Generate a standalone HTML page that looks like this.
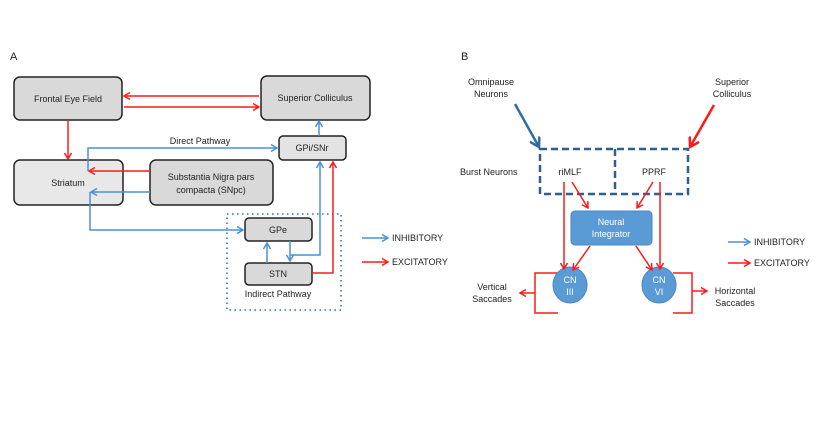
<!DOCTYPE html>
<html><head><meta charset="utf-8"><style>
html,body{margin:0;padding:0;background:#fff;}
svg{display:block;}
text{font-family:"Liberation Sans",sans-serif;font-size:9px;fill:#222;}
</style></head><body>
<svg width="822" height="421" viewBox="0 0 822 421" xmlns="http://www.w3.org/2000/svg">
<defs>
<marker id="rA" markerWidth="8" markerHeight="8" refX="7" refY="4" orient="auto" markerUnits="userSpaceOnUse"><path d="M1,0.5 L7,4 L1,7.5" fill="none" stroke="#ff1a1a" stroke-width="1.5"/></marker>
<marker id="bA" markerWidth="8" markerHeight="8" refX="7" refY="4" orient="auto" markerUnits="userSpaceOnUse"><path d="M1,0.5 L7,4 L1,7.5" fill="none" stroke="#4a90d9" stroke-width="1.5"/></marker>
<marker id="rB" markerWidth="12" markerHeight="12" refX="10" refY="6" orient="auto" markerUnits="userSpaceOnUse"><path d="M1,0.5 L10,6 L1,11.5" fill="none" stroke="#ff1a1a" stroke-width="2.5"/></marker>
<marker id="bB" markerWidth="12" markerHeight="12" refX="10" refY="6" orient="auto" markerUnits="userSpaceOnUse"><path d="M1,0.5 L10,6 L1,11.5" fill="none" stroke="#2e6da4" stroke-width="2.5"/></marker>
</defs>

<!-- Panel A -->
<text x="10" y="60" style="font-size:11px">A</text>
<g stroke="#222" stroke-width="1.5">
<rect x="14" y="77" width="108" height="43" rx="6" fill="#d9d9d9"/>
<rect x="261" y="76" width="109" height="44" rx="6" fill="#d9d9d9"/>
<rect x="279" y="136" width="67" height="24" rx="4" fill="#e3e3e3"/>
<rect x="14" y="160" width="109" height="45" rx="6" fill="#e8e8e8"/>
<rect x="150" y="160" width="123" height="45" rx="6" fill="#d9d9d9"/>
<rect x="245" y="218" width="67" height="23" rx="4" fill="#d9d9d9"/>
<rect x="245" y="263" width="67" height="22" rx="4" fill="#d9d9d9"/>
</g>
<rect x="227" y="214" width="114" height="96" fill="none" stroke="#2e6da4" stroke-width="1.5" stroke-dasharray="1.5,3.5"/>
<text x="68" y="102" text-anchor="middle">Frontal Eye Field</text>
<text x="315" y="101" text-anchor="middle">Superior Colliculus</text>
<text x="312" y="151" text-anchor="middle">GPi/SNr</text>
<text x="68" y="186" text-anchor="middle">Striatum</text>
<text x="211" y="180" text-anchor="middle">Substantia Nigra pars</text>
<text x="211" y="193" text-anchor="middle">compacta (SNpc)</text>
<text x="278" y="233" text-anchor="middle">GPe</text>
<text x="278" y="277" text-anchor="middle">STN</text>
<text x="200" y="144" text-anchor="middle">Direct Pathway</text>
<text x="278" y="297" text-anchor="middle">Indirect Pathway</text>

<g fill="none" stroke-width="1.5">
<line x1="259" y1="96" x2="124" y2="96" stroke="#ff1a1a" marker-end="url(#rA)"/>
<line x1="124" y1="107" x2="259" y2="107" stroke="#ff1a1a" marker-end="url(#rA)"/>
<line x1="68" y1="120" x2="68" y2="159" stroke="#ff1a1a" marker-end="url(#rA)"/>
<line x1="150" y1="171" x2="89" y2="171" stroke="#ff1a1a" marker-end="url(#rA)"/>
<line x1="319" y1="136" x2="319" y2="121" stroke="#4a90d9" marker-end="url(#bA)"/>
<polyline points="88,171 88,148 277,148" stroke="#4a90d9" marker-end="url(#bA)"/>
<line x1="150" y1="192" x2="91" y2="192" stroke="#4a90d9" marker-end="url(#bA)"/>
<polyline points="90,192 90,230 243,230" stroke="#4a90d9" marker-end="url(#bA)"/>
<line x1="267" y1="263" x2="267" y2="243" stroke="#4a90d9" marker-end="url(#bA)"/>
<line x1="290" y1="241" x2="290" y2="261" stroke="#4a90d9" marker-end="url(#bA)"/>
<polyline points="290,255 320,255 320,162" stroke="#4a90d9" marker-end="url(#bA)"/>
<polyline points="312,273 333,273 333,162" stroke="#ff1a1a" marker-end="url(#rA)"/>
<line x1="362" y1="238" x2="388" y2="238" stroke="#4a90d9" marker-end="url(#bA)"/>
<line x1="362" y1="262" x2="388" y2="262" stroke="#ff1a1a" marker-end="url(#rA)"/>
</g>
<text x="392" y="241">INHIBITORY</text>
<text x="392" y="265">EXCITATORY</text>

<!-- Panel B -->
<text x="461" y="60" style="font-size:11px">B</text>
<text x="491" y="85" text-anchor="middle">Omnipause</text>
<text x="491" y="97" text-anchor="middle">Neurons</text>
<text x="732" y="85" text-anchor="middle">Superior</text>
<text x="732" y="97" text-anchor="middle">Colliculus</text>
<text x="460" y="175">Burst Neurons</text>
<text x="570" y="175" text-anchor="middle">riMLF</text>
<text x="654" y="175" text-anchor="middle">PPRF</text>
<line x1="515" y1="104" x2="539" y2="147" stroke="#2e6da4" stroke-width="2.5" marker-end="url(#bB)"/>
<line x1="714" y1="105" x2="690" y2="147" stroke="#ff1a1a" stroke-width="2.5" marker-end="url(#rB)"/>
<g fill="none" stroke="#2f5f8f" stroke-width="2.5" stroke-dasharray="7,4">
<rect x="540" y="149" width="148" height="45"/>
<line x1="615" y1="149" x2="615" y2="194"/>
</g>
<rect x="571" y="211" width="81" height="34" rx="4" fill="#5b9bd5" stroke="#4a86c0" stroke-width="1"/>
<text x="611" y="225" text-anchor="middle" style="fill:#fff">Neural</text>
<text x="611" y="237" text-anchor="middle" style="fill:#fff">Integrator</text>
<ellipse cx="570" cy="285" rx="17" ry="18" fill="#5b9bd5" stroke="#4a86c0"/>
<ellipse cx="659" cy="285" rx="17" ry="18" fill="#5b9bd5" stroke="#4a86c0"/>
<text x="570" y="283" text-anchor="middle" style="fill:#fff">CN</text>
<text x="570" y="295" text-anchor="middle" style="fill:#fff">III</text>
<text x="659" y="283" text-anchor="middle" style="fill:#fff">CN</text>
<text x="659" y="295" text-anchor="middle" style="fill:#fff">VI</text>
<g fill="none" stroke="#ff1a1a" stroke-width="1.5">
<line x1="564" y1="182" x2="564" y2="269" marker-end="url(#rA)"/>
<line x1="572" y1="182" x2="588" y2="208" marker-end="url(#rA)"/>
<line x1="653" y1="182" x2="637" y2="208" marker-end="url(#rA)"/>
<line x1="660" y1="182" x2="660" y2="269" marker-end="url(#rA)"/>
<line x1="590" y1="246" x2="573" y2="270" marker-end="url(#rA)"/>
<line x1="636" y1="246" x2="652" y2="270" marker-end="url(#rA)"/>
<polyline points="557,273 535,273 535,313 558,313"/>
<line x1="535" y1="293" x2="520" y2="293" marker-end="url(#rA)"/>
<polyline points="673,273 692,273 692,313 673,313"/>
<line x1="692" y1="291" x2="707" y2="291" marker-end="url(#rA)"/>
<line x1="728" y1="242" x2="750" y2="242" stroke="#4a90d9" marker-end="url(#bA)"/>
<line x1="728" y1="263" x2="750" y2="263" marker-end="url(#rA)"/>
</g>
<text x="492" y="290" text-anchor="middle">Vertical</text>
<text x="492" y="302" text-anchor="middle">Saccades</text>
<text x="735" y="294" text-anchor="middle">Horizontal</text>
<text x="735" y="306" text-anchor="middle">Saccades</text>
<text x="754" y="245">INHIBITORY</text>
<text x="754" y="266">EXCITATORY</text>
</svg>
</body></html>
